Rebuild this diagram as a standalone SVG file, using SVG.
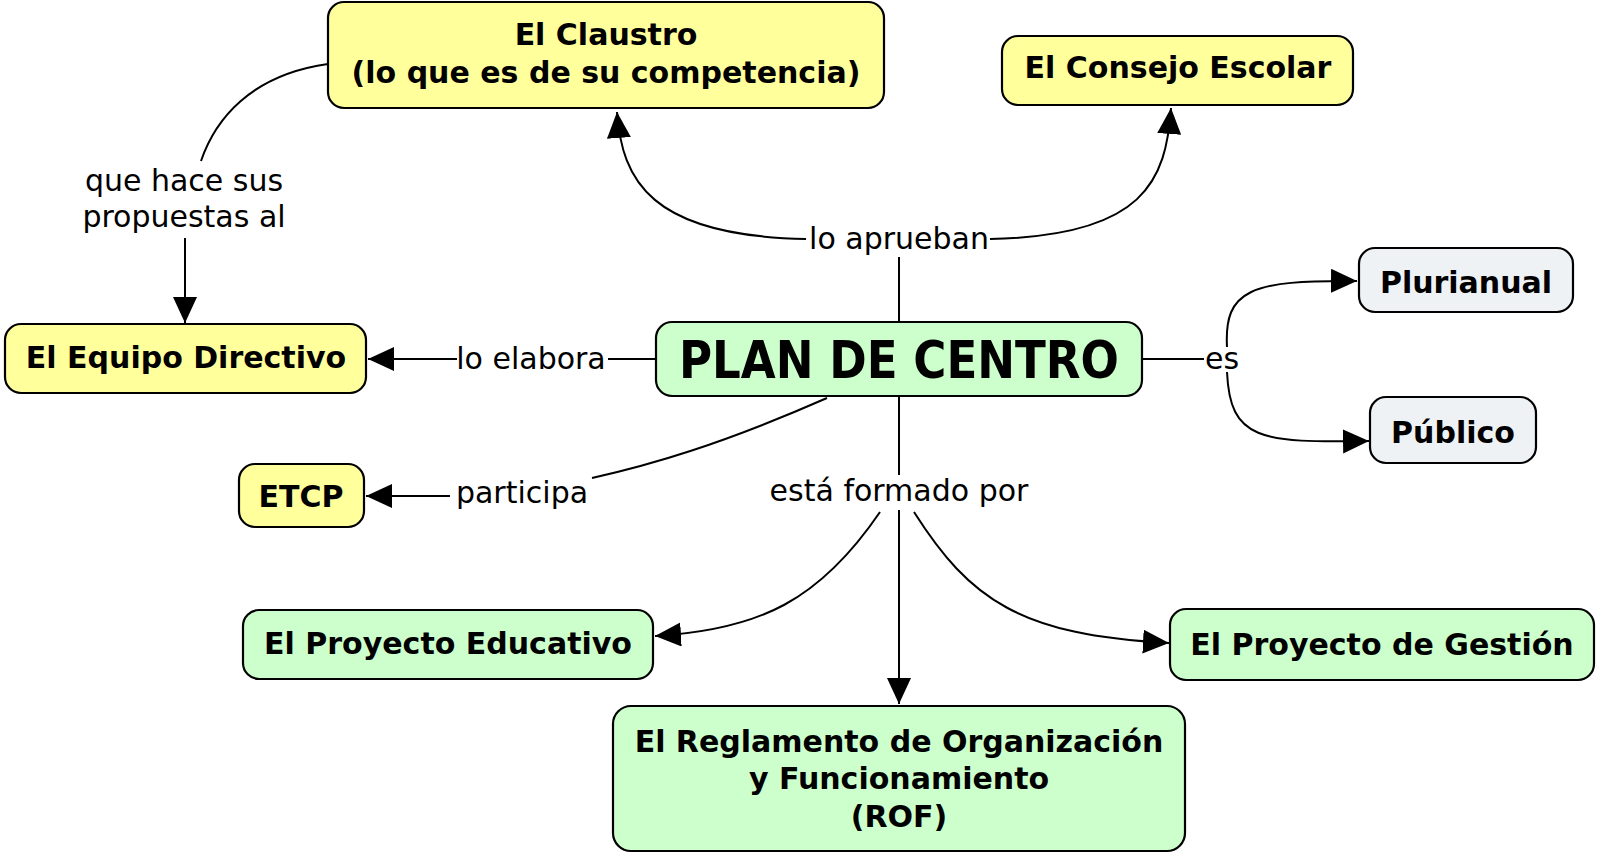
<svg xmlns="http://www.w3.org/2000/svg" width="1600" height="858" viewBox="0 0 1600 858">
<defs>
<style>
.node rect{stroke:#000;stroke-width:2.2}
.y rect{fill:#ffff9c}
.g rect{fill:#ccffcc}
.b rect{fill:#eef2f4}
.nt{font-family:"DejaVu Sans","Verdana",sans-serif;font-weight:bold;font-size:30px;fill:#000;text-anchor:middle}
.big{font-size:52px}
.lt{font-family:"DejaVu Sans","Verdana",sans-serif;font-size:30px;fill:#000;text-anchor:middle}
.c path{fill:none;stroke:#000;stroke-width:2}
</style>
<marker id="ah" markerUnits="userSpaceOnUse" markerWidth="28" markerHeight="26" refX="26" refY="12" orient="auto">
<path d="M0,0 L26,12 L0,24 z" fill="#000"/>
</marker>
</defs>
<rect width="1600" height="858" fill="#fff"/>
<g id="connectors" class="c">
<path d="M899,322 L899,257"/>
<path d="M806,239 C650,236 622,180 617,112" marker-end="url(#ah)"/>
<path d="M990,239 C1145,236 1166,180 1171,108" marker-end="url(#ah)"/>
<path d="M328,64 C250,75 215,120 201,161"/>
<path d="M185,238 L185,323" marker-end="url(#ah)"/>
<path d="M656,359 L608,359"/>
<path d="M457,359 L368,359" marker-end="url(#ah)"/>
<path d="M827,398 C720,445 650,465 592,478"/>
<path d="M450,496 L366,496" marker-end="url(#ah)"/>
<path d="M1142,359 L1204,359"/>
<path d="M1227,347 C1224,290 1250,280 1357,281" marker-end="url(#ah)"/>
<path d="M1227,372 C1230,440 1260,443 1369,441" marker-end="url(#ah)"/>
<path d="M899,396 L899,475"/>
<path d="M899,510 L899,704" marker-end="url(#ah)"/>
<path d="M880,512 C820,600 760,630 655,636" marker-end="url(#ah)"/>
<path d="M914,512 C970,600 1020,635 1169,643" marker-end="url(#ah)"/>
</g>
<g id="labels">
<text class="lt" x="899" y="249">lo aprueban</text>
<text class="lt" x="184" y="191">que hace sus</text>
<text class="lt" x="184" y="227">propuestas al</text>
<text class="lt" x="531" y="369">lo elabora</text>
<text class="lt" x="522" y="503">participa</text>
<text class="lt" x="1222" y="369">es</text>
<text class="lt" x="899" y="501">está formado por</text>
</g>
<g id="claustro" class="node y"><rect x="328" y="2" width="556" height="106" rx="16"/><text class="nt" x="606" y="45">El Claustro</text><text class="nt" x="606" y="83">(lo que es de su competencia)</text></g>
<g id="consejo" class="node y"><rect x="1002" y="36" width="351" height="69" rx="16"/><text class="nt" x="1178" y="78">El Consejo Escolar</text></g>
<g id="equipo" class="node y"><rect x="5" y="324" width="361" height="69" rx="16"/><text class="nt" x="186" y="368">El Equipo Directivo</text></g>
<g id="plan" class="node g"><rect x="656" y="322" width="486" height="74" rx="16"/><text class="nt big" x="899" y="378" textLength="440" lengthAdjust="spacingAndGlyphs">PLAN DE CENTRO</text></g>
<g id="plurianual" class="node b"><rect x="1359" y="248" width="214" height="64" rx="16"/><text class="nt" x="1466" y="293">Plurianual</text></g>
<g id="publico" class="node b"><rect x="1370" y="397" width="166" height="66" rx="16"/><text class="nt" x="1453" y="443">Público</text></g>
<g id="etcp" class="node y"><rect x="239" y="464" width="125" height="63" rx="16"/><text class="nt" x="301" y="507">ETCP</text></g>
<g id="educativo" class="node g"><rect x="243" y="610" width="410" height="69" rx="16"/><text class="nt" x="448" y="654">El Proyecto Educativo</text></g>
<g id="rof" class="node g"><rect x="613" y="706" width="572" height="145" rx="18"/><text class="nt" x="899" y="752">El Reglamento de Organización</text><text class="nt" x="899" y="789">y Funcionamiento</text><text class="nt" x="899" y="827">(ROF)</text></g>
<g id="gestion" class="node g"><rect x="1170" y="609" width="424" height="71" rx="16"/><text class="nt" x="1382" y="655">El Proyecto de Gestión</text></g>
</svg>
